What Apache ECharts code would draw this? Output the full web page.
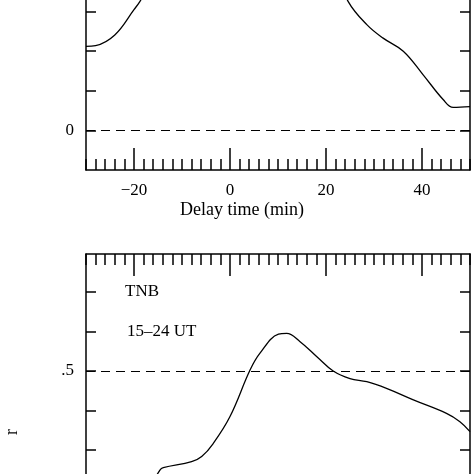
<!DOCTYPE html>
<html><head><meta charset="utf-8">
<script src="https://cdn.jsdelivr.net/npm/echarts@6/dist/echarts.min.js"></script>
<style>html,body{margin:0;padding:0;background:#fff}#c{width:474px;height:474px}</style>
</head><body><div id="c"></div>
<script>
const delayTop = [-30,-28,-24,-20,-18.75,-15,-10,-5,0,5,10,15,20,24.6,28.5,31.9,36.1,40.2,44.4,46.5,50];
const rTop =     [0.212,0.214,0.241,0.305,0.326,0.40,0.50,0.60,0.65,0.68,0.66,0.58,0.45,0.326,0.267,0.233,0.20,0.141,0.078,0.058,0.06];
const delayBot = [-20,-17,-14.6,-13.9,-8,-5.9,-3.5,0,4.2,6.25,10.1,11.8,14.6,18.1,21.5,25,28.5,32.6,38.2,45.1,47.9,50];
const rBot =     [0.15,0.20,0.25,0.256,0.271,0.284,0.317,0.385,0.503,0.545,0.593,0.595,0.574,0.536,0.5,0.481,0.473,0.456,0.427,0.393,0.372,0.347];
const xMajor = [-20,0,20,40];
const yTicksTop = [0,0.1,0.2,0.3];
const yTicksBot = [0.3,0.4,0.5,0.6,0.7];
const yLabelsTop = [0];
const yLabelsBot = [0.5];
const refLines = [0,0.5];
const font = 'Liberation Serif';
const chart = echarts.init(document.getElementById('c'));
const panels = [
  {grid:{left:86,right:4,top:0,height:170},min:-0.1,max:0.3293,xPos:'bottom',ticks:yTicksTop,labels:yLabelsTop},
  {grid:{left:86,right:4,top:254,height:220},min:0.24,max:0.7955,xPos:'top',ticks:yTicksBot,labels:yLabelsBot}
];
const xAxes=[], yAxes=[];
const lineStyle={color:'#000',width:1.5};
panels.forEach((p,gi)=>{
  xAxes.push({type:'value',gridIndex:gi,position:p.xPos,min:-30,max:50,interval:2,
    axisLine:{show:true,onZero:false,lineStyle},splitLine:{show:false},
    axisTick:{show:true,inside:true,length:22,customValues:xMajor,lineStyle},
    axisLabel:{show:p.xPos==='bottom',customValues:xMajor,color:'#000',fontFamily:font,fontSize:17,margin:12,
      formatter:v=>v<0?'\u2212'+Math.abs(v):String(v)}});
  xAxes.push({type:'value',gridIndex:gi,position:p.xPos,min:-30,max:50,interval:2,
    axisLine:{show:false,onZero:false},splitLine:{show:false},
    axisTick:{show:true,inside:true,length:11,lineStyle},axisLabel:{show:false}});
  ['left','right'].forEach(pos=>{
    yAxes.push({type:'value',gridIndex:gi,position:pos,min:p.min,max:p.max,
      axisLine:{show:true,onZero:false,lineStyle},splitLine:{show:false},
      axisTick:{show:true,inside:true,length:10,customValues:p.ticks,lineStyle},
      axisLabel:{show:pos==='left',customValues:p.labels,color:'#000',fontFamily:font,fontSize:17,margin:12,
        formatter:v=>Math.abs(v)<1e-9?'0':'.5'}});
  });
});
const mk = (xi,yi,xs,ys)=>({type:'line',xAxisIndex:xi,yAxisIndex:yi,smooth:0.4,showSymbol:false,clip:true,
  data:xs.map((x,i)=>[x,ys[i]]),lineStyle:{color:'#000',width:1.3},
  markLine:{silent:true,symbol:'none',label:{show:false},
    lineStyle:{color:'#000',width:1.2,type:[9,6]},
    data:refLines.map(v=>({yAxis:v}))}});
chart.setOption({
  animation:false,
  grid:panels.map(p=>p.grid),xAxis:xAxes,yAxis:yAxes,
  series:[mk(0,0,delayTop,rTop),mk(2,2,delayBot,rBot)],
  graphic:[
    {type:'text',left:180,top:201,style:{text:'Delay time (min)',font:'18px "Liberation Serif"',fill:'#000'}},
    {type:'text',left:125,top:283,style:{text:'TNB',font:'17px "Liberation Serif"',fill:'#000'}},
    {type:'text',left:127,top:323,style:{text:'15\u201224 UT',font:'17px "Liberation Serif"',fill:'#000'}},
    {type:'text',x:12,y:432,rotation:Math.PI/2,style:{text:'r',font:'18px "Liberation Serif"',fill:'#000',align:'center',verticalAlign:'middle'}}
  ]
});
</script></body></html>
